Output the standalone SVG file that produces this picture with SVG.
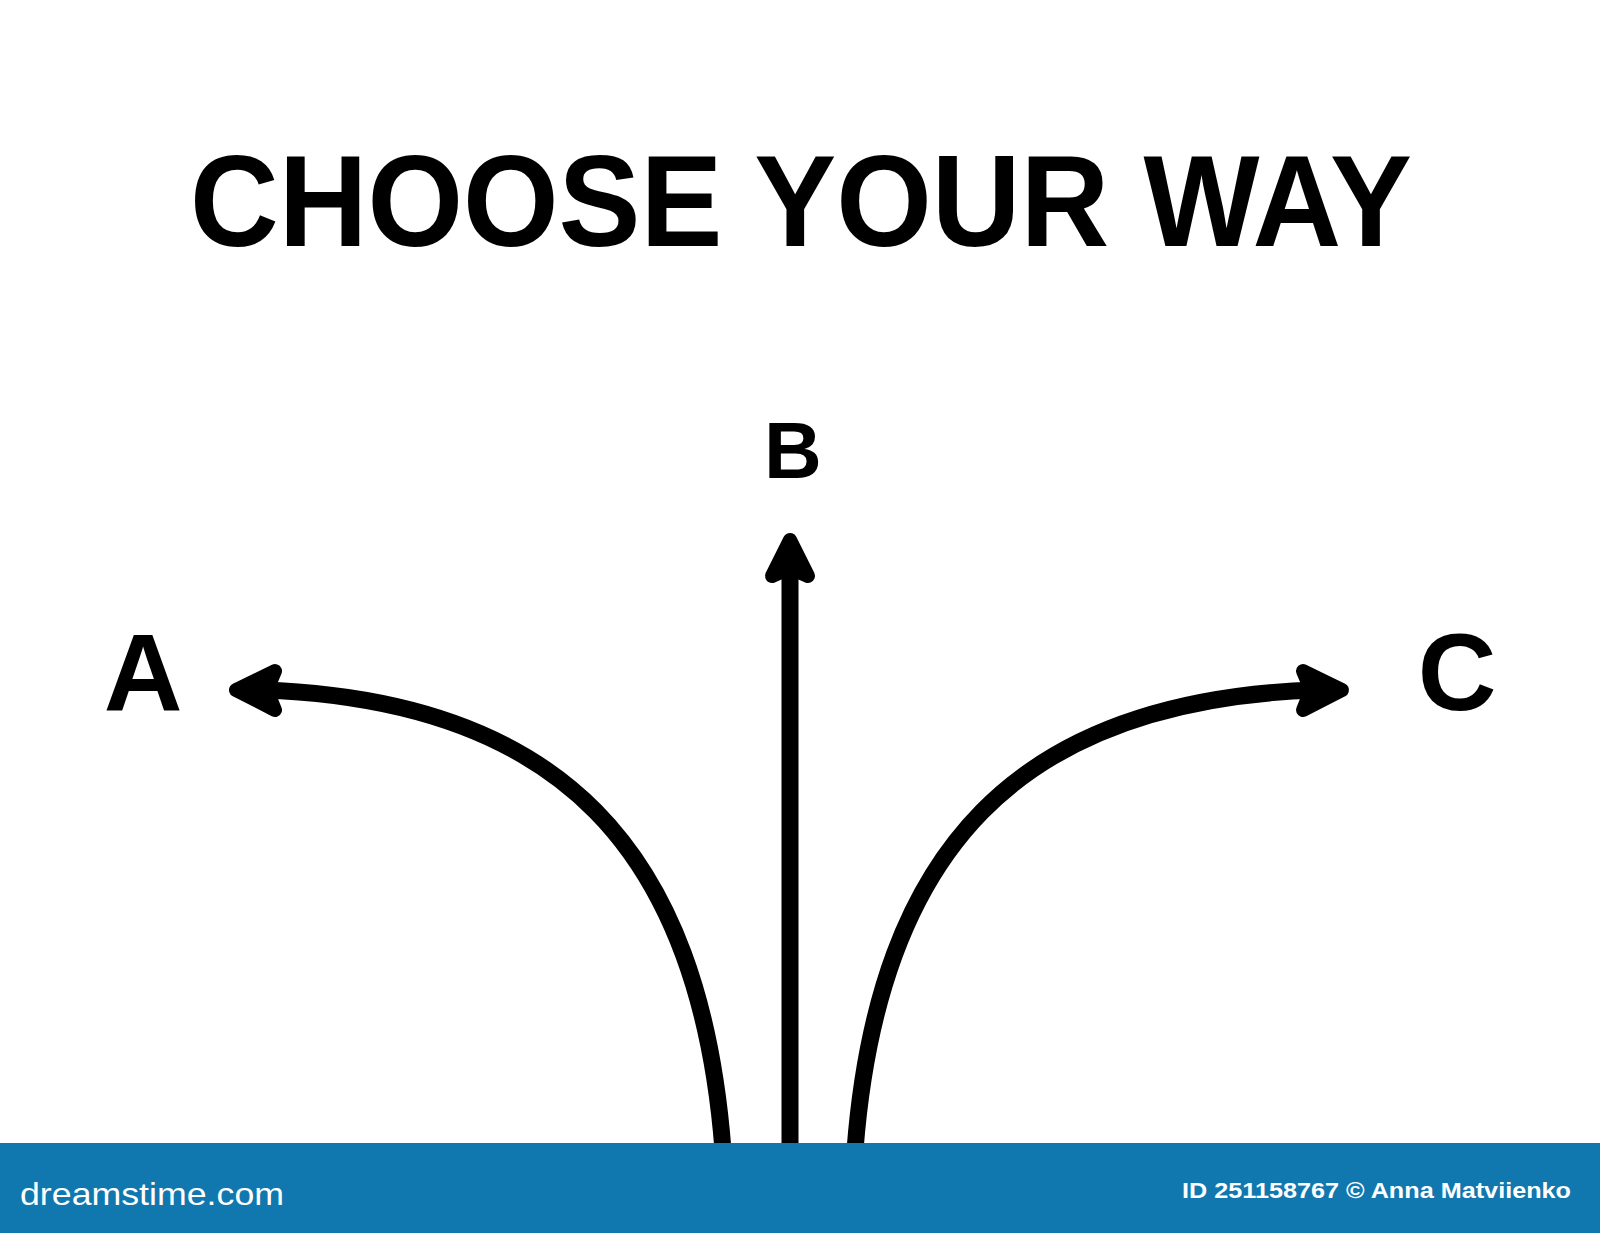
<svg xmlns="http://www.w3.org/2000/svg" width="1600" height="1233" viewBox="0 0 1600 1233">
<style>
.t{font-family:"Liberation Sans",Arial,sans-serif;font-weight:bold;fill:#000}
.ln{fill:none;stroke:#000;stroke-width:17;stroke-linecap:butt}
.hd{fill:#000;stroke:#000;stroke-width:14;stroke-linejoin:round}
.ft{font-family:"Liberation Sans",Arial,sans-serif;fill:#fff}
</style>
<rect width="1600" height="1233" fill="#fff"/>
<g id="title"><text class="t" x="801" y="246" font-size="130" text-anchor="middle" textLength="1222" lengthAdjust="spacingAndGlyphs">CHOOSE YOUR WAY</text></g>
<g id="nodeA"><text class="t" x="143" y="710" font-size="109" text-anchor="middle">A</text></g>
<g id="nodeB"><text class="t" x="793" y="478" font-size="80" text-anchor="middle">B</text></g>
<g id="nodeC"><text class="t" x="1457" y="710" font-size="109" text-anchor="middle">C</text></g>
<g id="connectors">
<path class="ln" d="M723 1150 C700 850 560 700 262 690"/>
<path class="hd" d="M236 690 L275 671 L267 690 L275 710 Z"/>
<path class="ln" d="M790 1150 L790 560"/>
<path class="hd" d="M790 540 L772 576 L790 568 L808 576 Z"/>
<path class="ln" d="M855 1150 C878 850 1018 700 1316 690"/>
<path class="hd" d="M1342 690 L1303 671 L1311 690 L1303 710 Z"/>
</g>
<g id="footer">
<rect x="0" y="1143" width="1600" height="90" fill="#1078ae"/>
<text class="ft" x="20" y="1205" font-size="32" textLength="264" lengthAdjust="spacingAndGlyphs">dreamstime.com</text>
<text class="ft" x="1182" y="1198" font-size="22" font-weight="bold" textLength="389" lengthAdjust="spacingAndGlyphs">ID 251158767 © Anna Matviienko</text>
</g>
</svg>
